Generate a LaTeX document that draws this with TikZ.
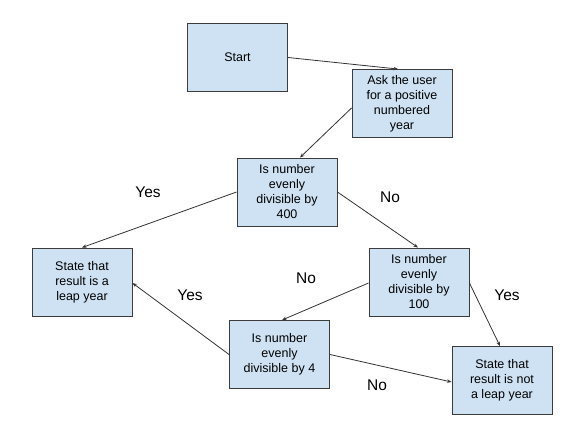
\documentclass[tikz,border=0pt]{standalone}
\usepackage{fontspec}
\setmainfont{Liberation Sans}
\usetikzlibrary{arrows.meta}
\definecolor{boxfill}{HTML}{CFE2F3}
\definecolor{boxline}{HTML}{3C3C3C}
\definecolor{linecol}{HTML}{333333}
\begin{document}
\begin{tikzpicture}[x=1pt,y=-1pt,
  stepbox/.style={draw=boxline,fill=boxfill,line width=0.9pt,minimum width=100pt,minimum height=68pt,
    inner sep=2pt,align=center,font=\fontsize{12.5}{15}\selectfont},
  conn/.style={draw=linecol,line width=0.8pt,-{Stealth[length=4.5pt,width=3.5pt]}},
  lbl/.style={font=\fontsize{15.5}{18}\selectfont}]
\useasboundingbox (0,0) rectangle (581,436);
\fill[white] (0,0) rectangle (581,436);
\node[stepbox] (start) at (237.5,57.5) {Start};
\node[stepbox] (ask) at (402,103.5) {Ask the user\\for a positive\\numbered\\year};
\node[stepbox] (d400) at (287,192) {Is number\\evenly\\divisible by\\400};
\node[stepbox] (leap) at (82,282) {State that\\result is a\\leap year};
\node[stepbox] (d100) at (419,282) {Is number\\evenly\\divisible by\\100};
\node[stepbox] (d4) at (279.5,354.5) {Is number\\evenly\\divisible by 4};
\node[stepbox] (notleap) at (502,380.5) {State that\\result is not\\a leap year};
\draw[conn] (start.east) -- ([xshift=-4pt]ask.north);
\draw[conn] ([yshift=-4.5pt]ask.west) -- ([xshift=13pt]d400.north);
\draw[conn] (d400.west) -- (leap.north);
\draw[conn] (d400.east) -- ([xshift=-1pt]d100.north);
\draw[conn] ([yshift=-1pt]d100.west) -- ([xshift=2.5pt]d4.north);
\draw[conn] ([yshift=-1pt]d100.east) -- ([xshift=-2pt]notleap.north);
\draw[conn] (d4.east) -- ([yshift=-1.5pt]notleap.west);
\draw[conn] (d4.west) -- ([yshift=-1pt]leap.east);
\node[lbl] (yes1) at (148,192) {Yes};
\node[lbl] (no1) at (390,197) {No};
\node[lbl] (no2) at (306,278) {No};
\node[lbl] (yes2) at (507,295) {Yes};
\node[lbl] (yes3) at (190,295) {Yes};
\node[lbl] (no3) at (377,385) {No};
\end{tikzpicture}
\end{document}
